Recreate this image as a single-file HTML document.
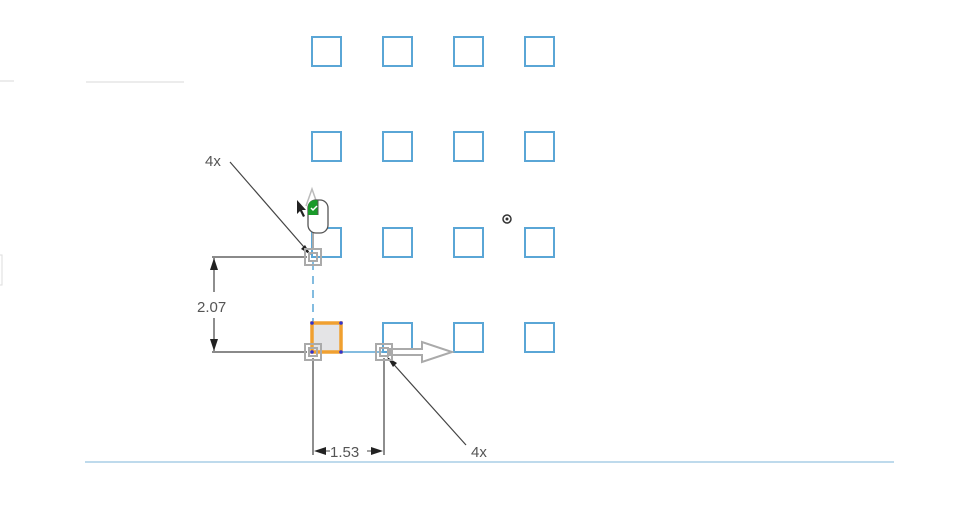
<!DOCTYPE html>
<html><head><style>
html,body{margin:0;padding:0;background:#fff;width:960px;height:512px;overflow:hidden}
svg{display:block}
text{font-family:"Liberation Sans",sans-serif;fill:#555;font-size:15px}
</style></head><body>
<svg width="960" height="512" viewBox="0 0 960 512">
<line x1="0" y1="81" x2="14" y2="81" stroke="#e6e6e6" stroke-width="1.5"/>
<line x1="86" y1="82" x2="184" y2="82" stroke="#ececec" stroke-width="2"/>
<rect x="-1" y="255" width="3" height="30" fill="none" stroke="#ddd"/>
<line x1="85" y1="462" x2="894" y2="462" stroke="#a8cde6" stroke-width="1.5"/>
<g fill="none" stroke="#5aa6d6" stroke-width="2">
<rect x="312" y="37" width="29" height="29"/><rect x="383" y="37" width="29" height="29"/><rect x="454" y="37" width="29" height="29"/><rect x="525" y="37" width="29" height="29"/>
<rect x="312" y="132" width="29" height="29"/><rect x="383" y="132" width="29" height="29"/><rect x="454" y="132" width="29" height="29"/><rect x="525" y="132" width="29" height="29"/>
<rect x="312" y="228" width="29" height="29"/><rect x="383" y="228" width="29" height="29"/><rect x="454" y="228" width="29" height="29"/><rect x="525" y="228" width="29" height="29"/>
<rect x="383" y="323" width="29" height="29"/><rect x="454" y="323" width="29" height="29"/><rect x="525" y="323" width="29" height="29"/>
</g>
<line x1="313" y1="262" x2="313" y2="323" stroke="#5aa6d6" stroke-width="1.5" stroke-dasharray="8,6"/>
<line x1="341" y1="352" x2="384" y2="352" stroke="#5aa6d6" stroke-width="1.5"/>
<rect x="312" y="323" width="29" height="29" fill="#e4e4e6" stroke="#f0a030" stroke-width="3.5"/>
<g fill="#3333cc"><circle cx="312" cy="323" r="1.8"/><circle cx="341" cy="323" r="1.8"/><circle cx="312" cy="352" r="1.8"/><circle cx="341" cy="352" r="1.8"/></g>
<path d="M390 349 H422 V342 L452 352 L422 362 V355 H390 Z" fill="#fff" stroke="#aaa" stroke-width="2"/>
<g stroke="#444" stroke-width="1.2" fill="none">
<line x1="212" y1="257" x2="307" y2="257"/><line x1="212" y1="352" x2="307" y2="352"/>
<line x1="214" y1="258" x2="214" y2="292"/><line x1="214" y1="318" x2="214" y2="351"/>
<line x1="313" y1="358" x2="313" y2="455"/><line x1="384" y1="358" x2="384" y2="455"/>
<line x1="230" y1="162" x2="310" y2="254"/><line x1="466" y1="445" x2="388" y2="358"/>
</g>
<g fill="#222">
<path d="M214 258 L210 270 L218 270Z"/><path d="M214 351 L210 339 L218 339Z"/>
<path d="M314 451 L326 447 L326 455Z"/><path d="M383 451 L371 447 L371 455Z"/>
<path d="M311 255 L301 249 L305 245Z"/><path d="M387 357 L397 363 L393 367Z"/>
</g>
<line x1="326" y1="451" x2="330" y2="451" stroke="#444"/><line x1="367" y1="451" x2="371" y2="451" stroke="#444"/>
<text x="197" y="312">2.07</text>
<text x="330" y="457">1.53</text>
<text x="205" y="166">4x</text>
<text x="471" y="457">4x</text>
<g fill="none" stroke="#aaa" stroke-width="2">
<rect x="305" y="249" width="16" height="16"/><rect x="309" y="253" width="8" height="8"/>
<rect x="305" y="344" width="16" height="16"/><rect x="309" y="348" width="8" height="8"/>
<rect x="376" y="344" width="16" height="16"/><rect x="380" y="348" width="8" height="8"/>
</g>
<line x1="313" y1="232" x2="313" y2="249" stroke="#aaa" stroke-width="2"/>
<path d="M306 206 L312 189 L318 206" fill="none" stroke="#bbb" stroke-width="1.5"/>
<rect x="308" y="200" width="20" height="33" rx="8" fill="#fff" stroke="#555" stroke-width="1.3"/>
<path d="M308 215 V208 Q308 200 316 200 H318 V215Z" fill="#1a9a2a"/>
<path d="M311 208 l2 2 l4 -4" stroke="#fff" stroke-width="1.5" fill="none"/>
<line x1="318" y1="200" x2="318" y2="215" stroke="#555" stroke-width="1"/>
<path d="M297 200 L297 214 L300 211 L303 217 L305 216 L302 210 L306 210Z" fill="#222"/>
<circle cx="507" cy="219" r="4" fill="none" stroke="#333" stroke-width="1.5"/><circle cx="507" cy="219" r="1.5" fill="#333"/>
</svg>
</body></html>
